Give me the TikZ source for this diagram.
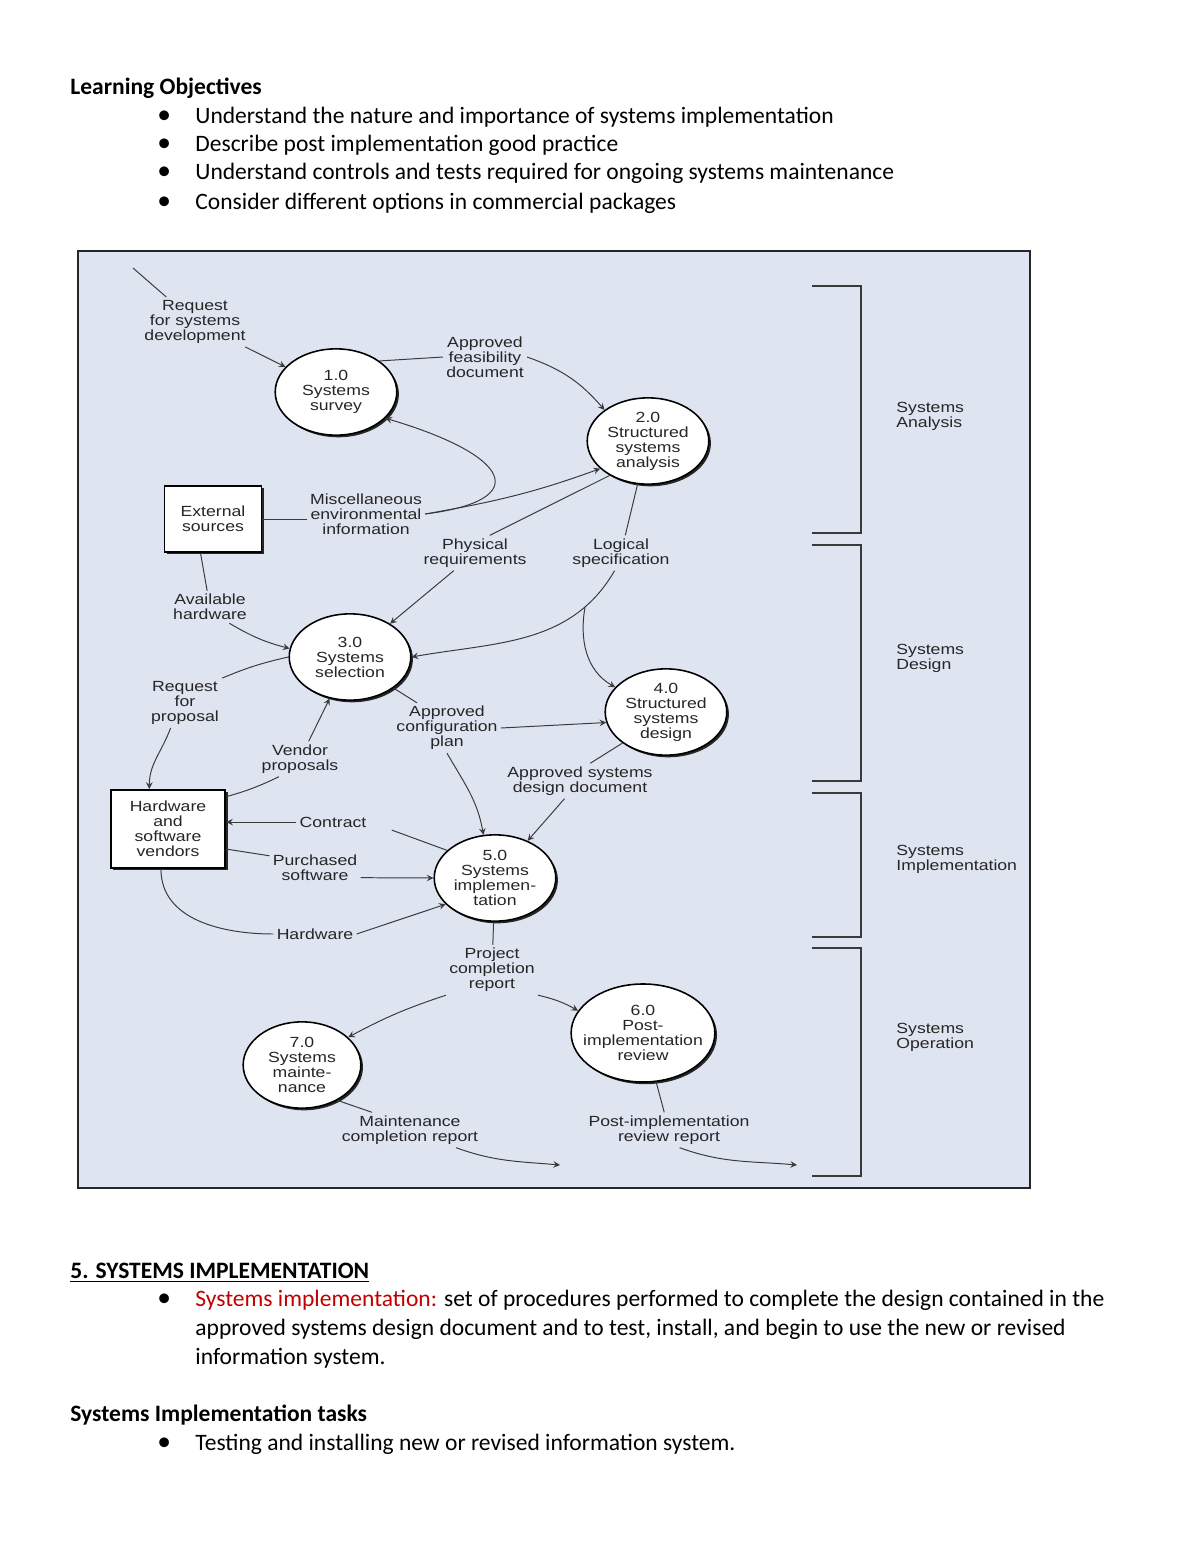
\documentclass[tikz,border=0pt]{standalone}
\usepackage{fontspec}
\setmainfont{Carlito}
\newfontfamily\dfdfont[FakeStretch=1.2]{Liberation Sans}
\usepackage{xcolor}
\usepackage{tikz}
\usetikzlibrary{shapes.geometric,shadows}
\definecolor{panel}{HTML}{DFE4F1}
\definecolor{dfdtext}{HTML}{262626}
\definecolor{dfdline}{HTML}{3A3A3A}
\definecolor{keyred}{HTML}{C00000}
\newcommand{\dfdsize}{\dfdfont\fontsize{7.5}{7.65}\selectfont}
\newcommand{\pagesize}{\fontsize{12}{14}\selectfont}

\begin{document}
\begin{tikzpicture}[x=0.51pt, y=0.51pt, >=stealth,
    ptext/.style={anchor=base west, inner sep=0pt, font=\pagesize},
    bul/.style={anchor=base west, inner sep=0pt, font=\fontsize{14}{14}\selectfont},
    proc/.style={ellipse, draw=black, line width=0.8pt, fill=white, align=center,
      font=\dfdsize, text=dfdtext, inner sep=0pt, minimum width=62pt, minimum height=44pt,
      drop shadow={shadow xshift=1.1pt, shadow yshift=-1.1pt, opacity=1, fill=black!85}},
    store/.style={rectangle, draw=black, line width=0.9pt, fill=white, align=center,
      font=\dfdsize, text=dfdtext, drop shadow={shadow xshift=1.1pt, shadow yshift=-1.1pt, opacity=1, fill=black!85}},
    lbl/.style={align=center, font=\dfdsize, text=dfdtext, inner sep=1.5pt},
    phase/.style={align=left, anchor=west, font=\dfdsize, text=dfdtext, inner sep=0pt},
    flow/.style={draw=dfdline, line width=0.5pt},
    bracket/.style={draw=dfdline, line width=1.1pt}]
  \useasboundingbox (0,0) rectangle (1200,-1553);

  % Objetivos
  \node[ptext, font=\pagesize\bfseries] (titulo) at (70,-95) {Learning Objectives};
  \node[bul] (b1) at (157,-124) {•};
  \node[ptext] (obj1) at (195,-124) {Understand the nature and importance of systems implementation};
  \node[bul] (b2) at (157,-152) {•};
  \node[ptext] (obj2) at (195,-152) {Describe post implementation good practice};
  \node[bul] (b3) at (157,-180) {•};
  \node[ptext] (obj3) at (195,-180) {Understand controls and tests required for ongoing systems maintenance};
  \node[bul] (b4) at (157,-210) {•};
  \node[ptext] (obj4) at (195,-210) {Consider different options in commercial packages};

  % Marco del diagrama
  \draw[fill=panel, draw=black!85, line width=1.5pt] (78,-251) rectangle (1030,-1188);

  % Procesos y entidades
  \node[proc] (c1) at (336,-392) {1.0\\Systems\\survey};
  \node[proc] (c2) at (648,-441) {2.0\\Structured\\systems\\analysis};
  \node[proc] (c3) at (350,-657) {3.0\\Systems\\selection};
  \node[proc] (c4) at (666,-712) {4.0\\Structured\\systems\\design};
  \node[proc] (c5) at (495,-878) {5.0\\Systems\\implemen-\\tation};
  \node[proc, inner xsep=-4.6pt, minimum width=73pt, minimum height=50pt] (c6) at (643,-1033) {6.0\\Post-\\implementation\\review};
  \node[proc, minimum width=60pt] (c7) at (302,-1065) {7.0\\Systems\\mainte-\\nance};
  \node[store, minimum width=49.5pt, minimum height=34pt] (ext) at (213,-519) {External\\sources};
  \node[store, minimum width=58.5pt, minimum height=40pt] (hsv) at (168,-829) {Hardware\\and\\software\\vendors};

  % Etiquetas de flujo
  \node[lbl] (lreq) at (195,-322) {Request\\for systems\\development};
  \node[lbl] (lfeas) at (485,-357) {Approved\\feasibility\\document};
  \node[lbl] (lmisc) at (366,-514) {Miscellaneous\\environmental\\information};
  \node[lbl] (lphys) at (475,-553) {Physical\\requirements};
  \node[lbl] (llog) at (621,-553) {Logical\\specification};
  \node[lbl] (lavail) at (210,-607) {Available\\hardware};
  \node[lbl] (lrfp) at (185,-703) {Request\\for\\proposal};
  \node[lbl] (lvend) at (300,-759) {Vendor\\proposals};
  \node[lbl] (lconf) at (447,-728) {Approved\\configuration\\plan};
  \node[lbl] (ldes) at (580,-781) {Approved systems\\design document};
  \node[lbl] (lcont) at (333,-822) {Contract};
  \node[lbl] (lpurch) at (315,-868) {Purchased\\software};
  \node[lbl] (lhw) at (315,-934) {Hardware};
  \node[lbl] (lproj) at (492,-970) {Project\\completion\\report};
  \node[lbl] (lmaint) at (410,-1130) {Maintenance\\completion report};
  \node[lbl] (lpost) at (669,-1130) {Post-implementation\\review report};
  \coordinate (start) at (133,-268);
  \coordinate (mend) at (560,-1165);
  \coordinate (pend) at (797,-1165);

  % Flechas
  \draw[flow] (start) -- (lreq);
  \draw[flow, ->] (lreq) -- (c1);
  \draw[flow] (c1.north east) -- (lfeas.west);
  \draw[flow, ->] (lfeas.east) to[bend left=15] (c2.north west);
  \draw[flow] (ext.east) -- (ext.east -| lmisc.west);
  \draw[flow, ->] (lmisc.east) to[out=10, in=200] (c2.210);
  \draw[flow, ->] (lmisc.east) .. controls (535,-500) and (510,-455) .. (c1.-28);
  \draw[flow] (c2.222) -- (lphys.50);
  \draw[flow, ->] (lphys) -- (c3);
  \draw[flow] (c2) -- (llog);
  \draw[flow, ->] (llog.250) to[out=-120, in=10] coordinate[pos=0.2] (lsplit) (c3.east);
  \draw[flow, ->] (lsplit) to[out=-100, in=150] (c4.154);
  \draw[flow] (ext.250) -- (lavail.100);
  \draw[flow, ->] (lavail.-40) to[bend right=8] (c3.172);
  \draw[flow] (c3.west) to[bend right=5] (lrfp.north east);
  \draw[flow, ->] (lrfp.240) to[out=-110, in=90] (hsv.115);
  \draw[flow] (hsv.29) to[bend right=5] (lvend.220);
  \draw[flow, ->] (lvend) -- (c3);
  \draw[flow] (c3.south east) -- (lconf.140);
  \draw[flow, ->] (lconf.east) -- (c4.190);
  \draw[flow, ->] (lconf.south) to[out=-60, in=100] (c5.105);
  \draw[flow] (c4.south west) -- (ldes.60);
  \draw[flow, ->] (ldes) -- (c5);
  \draw[flow, shorten >=12pt] (c5.150) -- (lcont.east);
  \draw[flow, ->] (lcont.west) -- (lcont.west -| hsv.east);
  \draw[flow] (hsv.-19) -- (lpurch.165);
  \draw[flow, ->] (lpurch.-12) -- (c5.west);
  \draw[flow] (hsv.-100) to[out=-90, in=180] (lhw.west);
  \draw[flow, ->] (lhw.east) -- (c5.208);
  \draw[flow] (c5) -- (lproj);
  \draw[flow, ->] (lproj.south west) to[bend right=5] (c7.31);
  \draw[flow, ->] (lproj.south east) to[bend left=8] (c6.161);
  \draw[flow] (c7.-45) -- (lmaint.155);
  \draw[flow, ->] (lmaint.-21) to[out=-20, in=175] (mend);
  \draw[flow] (c6) -- (lpost);
  \draw[flow, ->] (lpost.-59) to[out=-20, in=175] (pend);

  % Fases
  \draw[bracket] (812,-286) -- (861,-286) -- (861,-533) -- (812,-533);
  \draw[bracket] (812,-545) -- (861,-545) -- (861,-781) -- (812,-781);
  \draw[bracket] (812,-793) -- (861,-793) -- (861,-937) -- (812,-937);
  \draw[bracket] (812,-948) -- (861,-948) -- (861,-1176) -- (812,-1176);
  \node[phase] (fan) at (896,-416) {Systems\\Analysis};
  \node[phase] (fdis) at (896,-658) {Systems\\Design};
  \node[phase] (fimp) at (896,-859) {Systems\\Implementation};
  \node[phase] (fop) at (896,-1037) {Systems\\Operation};

  % Texto inferior
  \node[ptext, font=\pagesize\bfseries] (sec5) at (70,-1278) {\underline{5. SYSTEMS IMPLEMENTATION}};
  \node[bul] (b5) at (157,-1306) {•};
  \node[ptext] (def1) at (195,-1306) {\textcolor{keyred}{Systems implementation:} set of procedures performed to complete the design contained in the};
  \node[ptext] (def2) at (195,-1335) {approved systems design document and to test, install, and begin to use the new or revised};
  \node[ptext] (def3) at (195,-1364) {information system.};
  \node[ptext, font=\pagesize\bfseries] (tareas) at (70,-1421) {Systems Implementation tasks};
  \node[bul] (b6) at (157,-1450) {•};
  \node[ptext] (tar1) at (195,-1450) {Testing and installing new or revised information system.};
\end{tikzpicture}
\end{document}
